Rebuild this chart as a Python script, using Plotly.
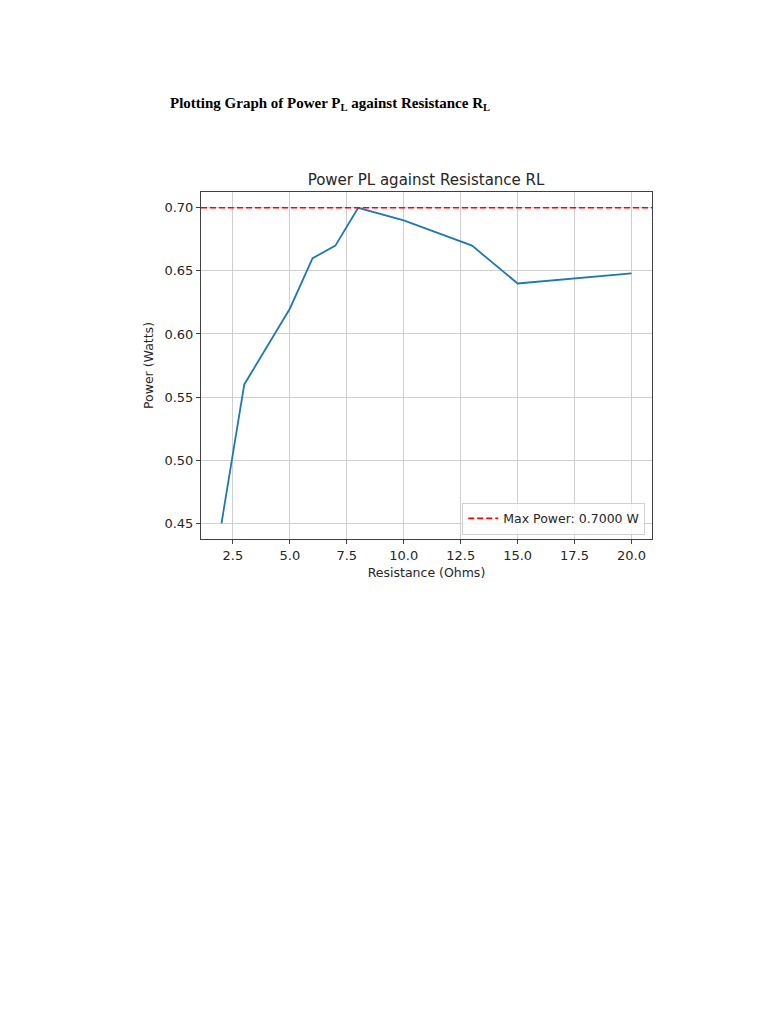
import plotly.graph_objects as go

resistance = [2, 3, 5, 6, 7, 8, 10, 13, 15, 20]
power = [0.45, 0.56, 0.62, 0.66, 0.67, 0.70, 0.69, 0.67, 0.64, 0.648]

max_power = max(power)
font_fam = "DejaVu Sans"
txt_col = "#262626"

fig = go.Figure()
fig.add_trace(go.Scatter(x=resistance, y=power, mode="lines",
                         line=dict(color="#1f77b4", width=1.8),
                         showlegend=False, name="Power"))

fig.add_hline(y=max_power, line=dict(color="#ff0000", width=1.7, dash="6px,3px"),
              showlegend=True, name=f"Max Power: {max_power:.4f} W")

# page body adds 8px offset, so margins are reduced by 8
fig.update_layout(
    width=768, height=1024,
    margin=dict(l=193, r=124, t=184, b=493),
    paper_bgcolor="white", plot_bgcolor="white",
    font=dict(family=font_fam, size=13, color=txt_col),
    title=dict(text="Power PL against Resistance RL", x=418 / 768, xanchor="center",
               y=1 - 172 / 1024, yanchor="middle",
               font=dict(family=font_fam, size=15, color=txt_col)),
    legend=dict(x=0.985, xanchor="right", y=0.012, yanchor="bottom",
                bgcolor="rgba(255,255,255,0.8)", bordercolor="#d0d0d0", borderwidth=1,
                font=dict(family=font_fam, size=12.5, color=txt_col)),
    annotations=[dict(
        text="<b>Plotting Graph of Power P<sub>L</sub> against Resistance R<sub>L</sub></b>",
        xref="paper", yref="paper", x=(168 - 201) / 451, y=1 + (192 - 104) / 347,
        xanchor="left", yanchor="middle", showarrow=False,
        font=dict(family="Liberation Serif", size=15, color="black"))],
)

fig.update_xaxes(range=[1.1, 20.9], tick0=0, dtick=2.5, tickformat=".1f",
                 showgrid=True, gridcolor="#cfcfcf", gridwidth=1,
                 showline=True, linecolor="#404040", linewidth=1, mirror=True,
                 ticks="outside", ticklen=4, tickcolor="#404040", zeroline=False,
                 title=dict(text="Resistance (Ohms)", standoff=6,
                            font=dict(family=font_fam, size=12.5, color=txt_col)))
fig.update_yaxes(range=[0.4375, 0.7125], tick0=0, dtick=0.05, tickformat=".2f",
                 showgrid=True, gridcolor="#cfcfcf", gridwidth=1,
                 showline=True, linecolor="#404040", linewidth=1, mirror=True,
                 ticks="outside", ticklen=4, tickcolor="#404040", zeroline=False,
                 title=dict(text="Power (Watts)", standoff=8,
                            font=dict(family=font_fam, size=12.5, color=txt_col)))

fig.write_html("out.html")
